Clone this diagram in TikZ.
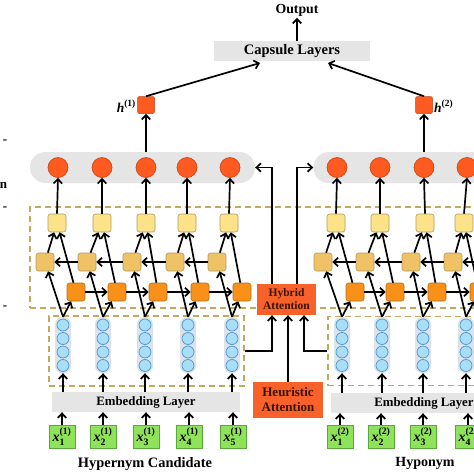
\documentclass[tikz,border=0pt]{standalone}
\usepackage{amsmath}
\usepackage{fontspec}
\setmainfont{Liberation Serif}
\usetikzlibrary{arrows.meta,calc}
\definecolor{topy}{HTML}{FCE38A}
\definecolor{midy}{HTML}{EFC266}
\definecolor{orb}{HTML}{F8901A}
\definecolor{redo}{HTML}{FF5A1F}
\definecolor{boxo}{HTML}{F8622A}
\definecolor{sqedge}{HTML}{B09A60}
\definecolor{blf}{HTML}{A9DEF7}
\definecolor{ble}{HTML}{4F95CF}
\definecolor{colbg}{HTML}{DDE3EA}
\definecolor{grn}{HTML}{8FE35A}
\definecolor{grne}{HTML}{5AA83A}
\definecolor{barg}{HTML}{E5E5E5}
\definecolor{dashc}{HTML}{C2A95E}
\definecolor{txtd}{HTML}{3A1200}
\newcommand{\inlab}[2]{$\textbf{\textit{x}}^{\textbf{(#1)}}_{\textbf{#2}}$}
\tikzset{
  sq/.style={rectangle, rounded corners=2.5pt, minimum size=18pt, inner sep=0pt, draw=sqedge, line width=0.6pt},
  topsq/.style={sq, fill=topy},
  midsq/.style={sq, fill=midy},
  botsq/.style={sq, fill=orb, draw=orb!75!black},
  outc/.style={circle, minimum size=20pt, inner sep=0pt, fill=redo, draw=redo!75!black, line width=0.6pt},
  embc/.style={circle, minimum size=12pt, inner sep=0pt, fill=blf, draw=ble, line width=0.7pt},
  embcol/.style={rectangle, rounded corners=7pt, minimum width=16pt, minimum height=56pt, fill=colbg, inner sep=0pt},
  arr/.style={line width=1.7pt, -{Straight Barb[length=4.5pt,width=8.5pt]}},
  dbox/.style={draw=dashc, line width=1.2pt, dash pattern=on 6pt off 4pt},
  bar/.style={rectangle, fill=barg, inner sep=0pt, font=\fontsize{12.8}{14}\bfseries},
  inp/.style={rectangle, minimum width=26pt, minimum height=23pt, inner sep=0pt, fill=grn, draw=grne, line width=0.6pt, font=\fontsize{14}{14}\selectfont},
  att/.style={rectangle, fill=boxo, text=txtd, align=center, inner sep=0pt},
  ell/.style={rectangle, rounded corners=15.5pt, minimum width=225pt, minimum height=31pt, fill=barg, inner sep=0pt},
  hsq/.style={rectangle, rounded corners=2pt, minimum size=17pt, inner sep=0pt, fill=redo, draw=redo!75!black, line width=0.5pt},
  lab/.style={font=\fontsize{14.4}{16}\bfseries, inner sep=0pt},
  frag/.style={font=\fontsize{13}{14}\bfseries, inner sep=0pt}
}
\begin{document}
\begin{tikzpicture}[x=1pt,y=-1pt]
\useasboundingbox (0,0) rectangle (474,474);
\clip (0,0) rectangle (474,474);
\fill[white] (0,0) rectangle (474,474);

% background containers
\node[ell] (Lell) at (142.5,167.5) {};
\node[ell] (Rell) at (426,167.5) {};
\node[dbox, rectangle, minimum width=520pt, minimum height=101pt, inner sep=0pt] (bilstm) at (290,257.5) {};
\node[dbox, rectangle, minimum width=195pt, minimum height=70pt, inner sep=0pt] (LEbox) at (146.5,351) {};
\node[dbox, rectangle, minimum width=212pt, minimum height=69pt, inner sep=0pt] (REbox) at (434,351) {};
\node[bar, minimum width=188pt, minimum height=20pt] (LE) at (146,402) {Embedding Layer};
\node[bar, minimum width=186pt, minimum height=20pt] (RE) at (424,403) {Embedding Layer};

% left columns
\foreach \i/\t/\m/\b/\e/\c/\g in {1/57/45/76/63/58/62, 2/102/87/117/103/102/103, 3/146/132/158/145/146/146, 4/187/175/200/188/187/189, 5/229/217/242/232/230/233}{
  \node[topsq] (Lt\i) at (\t,223) {};
  \node[midsq] (Lm\i) at (\m,262) {};
  \node[botsq] (Lb\i) at (\b,292) {};
  \node[embcol] (Le\i) at (\e,345) {};
  \foreach \y [count=\j] in {325,338.5,352,365.5} \node[embc] (Le\i c\j) at (\e,\y) {};
  \node[outc] (Lc\i) at (\c,167.5) {};
  \node[inp] (Lg\i) at (\g,436.5) {\inlab{1}{\i}};
}
% right columns
\foreach \i/\t/\m/\b/\e/\c/\g in {1/336/323/355/342/337/340, 2/380/365/395/382/380/381, 3/425/411/437/423/424/423, 4/464/453/479/466/467/468, 5/507/495/521/508/510/510}{
  \node[topsq] (Rt\i) at (\t,223) {};
  \node[midsq] (Rm\i) at (\m,262) {};
  \node[botsq] (Rb\i) at (\b,292) {};
  \node[embcol] (Re\i) at (\e,345) {};
  \foreach \y [count=\j] in {325,338.5,352,365.5} \node[embc] (Re\i c\j) at (\e,\y) {};
  \node[outc] (Rc\i) at (\c,167.5) {};
  \node[inp] (Rg\i) at (\g,436.5) {\inlab{2}{\i}};
}

% column connectors
\foreach \s/\bar in {L/LE, R/RE}{
  \foreach \i in {1,...,5}{
    \draw[arr] (\s g\i.north) -- (\s g\i.north |- \bar.south);
    \draw[arr] (\s e\i.south |- \bar.north) -- (\s e\i.south);
    \draw[arr] (\s e\i.north) -- (\s m\i);
    \draw[arr] (\s e\i.north) -- (\s b\i);
    \draw[arr] (\s m\i) -- (\s t\i);
    \draw[arr] (\s b\i) -- (\s t\i);
    \draw[arr] (\s t\i.north) -- (\s c\i.south);
  }
  \foreach \i [evaluate=\i as \j using int(\i+1)] in {1,...,4}{
    \draw[arr] (\s b\i) -- (\s b\j);
    \draw[arr] (\s m\j) -- (\s m\i);
  }
}

% attention
\node[att, minimum width=59pt, minimum height=31pt, font=\fontsize{11.5}{13}\bfseries] (hyb) at (286.5,299.5) {Hybrid\\Attention};
\node[att, minimum width=70pt, minimum height=36pt, font=\fontsize{13}{15}\bfseries] (heu) at (288,400) {Heuristic\\Attention};
\draw[arr] (LEbox.east) -| ($(hyb.south)+(-14.5,0)$);
\draw[arr] (REbox.west) -| ($(hyb.south)+(17.5,0)$);
\draw[arr] (heu.north) -- (heu.north |- hyb.south);
\draw[arr] ($(hyb.north)+(-14.5,0)$) |- (Lell.east);
\draw[arr] ($(hyb.north)+(10.5,0)$) |- (Rell.west);

% top part
\node[hsq] (h1) at (146,105) {};
\node[hsq] (h2) at (424,105) {};
\node[inner sep=0pt, font=\fontsize{13.5}{14}\selectfont, anchor=east] (h1l) at (136,106) {$\textbf{\textit{h}}^{\textbf{(1)}}$};
\node[inner sep=0pt, font=\fontsize{13.5}{14}\selectfont, anchor=west] (h2l) at (434,106) {$\textbf{\textit{h}}^{\textbf{(2)}}$};
\draw[arr] (h1 |- Lell.north) -- (h1.south);
\draw[arr] (h2 |- Rell.north) -- (h2.south);
\node[bar, minimum width=156pt, minimum height=20pt, font=\fontsize{14.5}{16}\bfseries] (cap) at (292,51) {Capsule Layers};
\coordinate (capL) at (260,63);
\coordinate (capR) at (328,63);
\draw[arr] (h1.north) -- (capL);
\draw[arr] (h2.north) -- (capR);
\node[font=\fontsize{13.8}{15}\bfseries, inner sep=0pt] (out) at (297,10) {Output};
\draw[arr] (out |- cap.north) -- ($(out.south)+(0,1.5)$);

% bottom labels
\node[lab] (hyper) at (145,464) {Hypernym Candidate};
\node[lab, font=\fontsize{14}{16}\bfseries] (hypo) at (425,463) {Hyponym};

% cut-off side label fragments
\node[frag] (f1) at (5,142) {-};
\node[frag] (f2) at (3.5,185) {n};
\node[frag] (f3) at (5,209) {-};
\node[frag] (f4) at (5,308) {-};
\end{tikzpicture}
\end{document}
